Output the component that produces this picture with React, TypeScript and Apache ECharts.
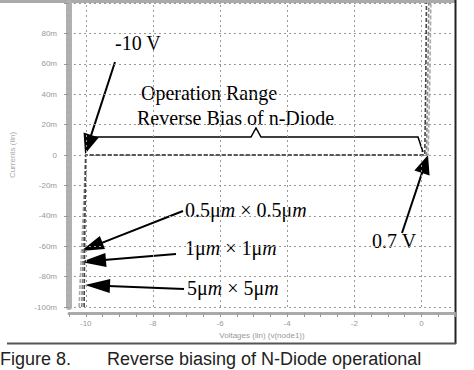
import React, { useEffect, useRef } from "react";
import * as echarts from "echarts";

// I-V data (voltage in V, current in A) for the three diode sizes
const sizeLabels = ["0.5µm x 0.5µm", "1µm x 1µm", "5µm x 5µm"];
const volts05 = [-10.05, -10.03, -10.0, -8.0, -6.0, -4.0, -2.0, 0.0, 0.1, 0.13, 0.15];
const amps05 = [-0.1, -0.05, 0, 0, 0, 0, 0, 0, 0, 0.05, 0.1];
const volts1 = [-10.12, -10.06, -10.0, -8.0, -6.0, -4.0, -2.0, 0.0, 0.15, 0.19, 0.22];
const amps1 = [-0.1, -0.05, 0, 0, 0, 0, 0, 0, 0, 0.05, 0.1];
const volts5 = [-10.2, -10.1, -10.0, -8.0, -6.0, -4.0, -2.0, 0.0, 0.2, 0.25, 0.28];
const amps5 = [-0.1, -0.05, 0, 0, 0, 0, 0, 0, 0, 0.05, 0.1];
const gridVolts = [-10, -8, -6, -4, -2, 0];

const zip = (xs: number[], ys: number[]) => xs.map((x, i) => [x, ys[i]]);

const SERIF = "'Liberation Serif', 'Times New Roman', serif";
const SANS = "'Liberation Sans', Arial, sans-serif";

function arrow(x1: number, y1: number, x2: number, y2: number, L: number, W: number): any[] {
  const dx = x2 - x1, dy = y2 - y1;
  const len = Math.hypot(dx, dy);
  const ux = dx / len, uy = dy / len;
  const bx = x2 - ux * L, by = y2 - uy * L;
  const px = -uy, py = ux;
  return [
    { type: "line", shape: { x1, y1, x2: bx + ux * 2, y2: by + uy * 2 }, style: { stroke: "#000", lineWidth: 2 } },
    {
      type: "polygon",
      shape: { points: [[x2, y2], [bx + px * W, by + py * W], [bx - px * W, by - py * W]] },
      style: { fill: "#000" },
    },
  ];
}

function label(x: number, y: number, text: string, rich?: any): any {
  return {
    type: "text",
    x,
    y,
    style: {
      text,
      fill: "#000",
      fontFamily: SERIF,
      fontSize: 20,
      verticalAlign: "middle",
      align: "left",
      rich,
    },
  };
}

const richMu = {
  n: { fontFamily: SERIF, fontSize: 20, fill: "#000", color: "#000" },
  i: { fontFamily: SERIF, fontSize: 20, fontStyle: "italic", fill: "#000", color: "#000" },
};

export default function App() {
  const ref = useRef<HTMLDivElement>(null);
  useEffect(() => {
    if (!ref.current) return;
    const chart = echarts.init(ref.current, null, { renderer: "svg" });
    const seriesStyle = (color: string) => ({
      type: "line" as const,
      showSymbol: false,
      symbol: "none",
      lineStyle: { color, width: 1.6, type: [4, 2] },
      silent: true,
      clip: true,
    });
    chart.setOption({
      animation: false,
      backgroundColor: "#fff",
      grid: { left: 68, right: 19, top: 3, bottom: 63, containLabel: false },
      xAxis: {
        type: "value",
        min: -10.5,
        max: 1,
        interval: 0.5,
        offset: 6,
        name: "Voltages (lin) (v(node1))",
        nameLocation: "middle",
        nameGap: 17,
        nameTextStyle: { color: "#999", fontSize: 8, fontFamily: SANS },
        axisLine: { show: true, onZero: false, lineStyle: { color: "#aaa", width: 3 } },
        axisTick: { show: true, length: 4, lineStyle: { color: "#999" } },
        axisLabel: {
          color: "#999",
          fontSize: 8,
          fontFamily: SANS,
          margin: 6,
          formatter: (v: number) => (Math.abs(v % 2) < 1e-9 && v <= 0 ? String(v) : ""),
        },
        splitLine: { show: false },
      },
      yAxis: {
        type: "value",
        min: -0.1,
        max: 0.1,
        interval: 0.02,
        name: "Currents (lin)",
        nameLocation: "middle",
        nameGap: 53,
        nameRotate: 90,
        nameTextStyle: { color: "#aaa", fontSize: 8, fontFamily: SANS },
        axisLine: { show: true, onZero: false, lineStyle: { color: "#b0b0b0", width: 6 } },
        axisTick: { show: true, length: 5, lineStyle: { color: "#999" } },
        minorTick: { show: true, splitNumber: 5, length: 3, lineStyle: { color: "#aaa" } },
        axisLabel: {
          color: "#999",
          fontSize: 8,
          fontFamily: SANS,
          margin: 12,
          formatter: (v: number) => {
            const m = Math.round(v * 1000);
            if (m >= 100) return "";
            return m === 0 ? "0" : `${m}m`;
          },
        },
        splitLine: { show: true, lineStyle: { color: "#999", width: 1, type: [2, 3] } },
      },
      series: [
        {
          name: "grid",
          type: "line",
          data: [],
          silent: true,
          markLine: {
            silent: true,
            symbol: "none",
            label: { show: false },
            lineStyle: { color: "#999", width: 1, type: [2, 3] },
            data: gridVolts.map((v) => ({ xAxis: v })),
          },
        },
        { name: sizeLabels[2], data: zip(volts5, amps5), ...seriesStyle("#aaa") },
        { name: sizeLabels[1], data: zip(volts1, amps1), ...seriesStyle("#888") },
        { name: sizeLabels[0], data: zip(volts05, amps05), ...seriesStyle("#444") },
      ],
      graphic: [
        { type: "rect", shape: { x: 0, y: 0, width: 455, height: 3 }, style: { fill: "#aaa" } },
        { type: "line", shape: { x1: 455.5, y1: 0, x2: 455.5, y2: 344 }, style: { stroke: "#222", lineWidth: 2 } },
        { type: "line", shape: { x1: 7, y1: 343.5, x2: 456, y2: 343.5 }, style: { stroke: "#555", lineWidth: 2 } },
        // brace
        {
          type: "polyline",
          shape: { points: [[86, 152], [94, 137], [251, 137], [256, 128], [261, 137], [418, 137], [423, 152]] },
          style: { stroke: "#000", lineWidth: 1.5, fill: null },
        },
        ...arrow(115, 62, 85, 154, 20, 8),
        ...arrow(402, 233, 428, 155, 19, 8),
        ...arrow(183, 211, 81, 251, 23, 7),
        ...arrow(176, 254, 81, 262, 25, 7),
        ...arrow(184, 289, 85, 285, 25, 7),
        label(115, 43, "-10 V"),
        label(141, 93, "Operation Range"),
        label(137, 118, "Reverse Bias of n-Diode"),
        label(372, 241, "0.7 V"),
        label(185, 210, "{n|0.5μ}{i|m}{n| × 0.5μ}{i|m}", richMu),
        label(185, 248, "{n|1μ}{i|m}{n| × 1μ}{i|m}", richMu),
        label(187, 288, "{n|5μ}{i|m}{n| × 5μ}{i|m}", richMu),
        {
          type: "text",
          x: 0,
          y: 359,
          style: { text: "Figure 8.", fill: "#222", fontFamily: SANS, fontSize: 18, verticalAlign: "middle" },
        },
        {
          type: "text",
          x: 107,
          y: 359,
          style: {
            text: "Reverse biasing of N-Diode operational",
            fill: "#222",
            fontFamily: SANS,
            fontSize: 18,
            verticalAlign: "middle",
          },
        },
      ],
    });
    return () => chart.dispose();
  }, []);
  return (
    <div
      ref={ref}
      style={{ position: "fixed", left: 0, top: 0, width: 474, height: 370, background: "#fff" }}
    />
  );
}
